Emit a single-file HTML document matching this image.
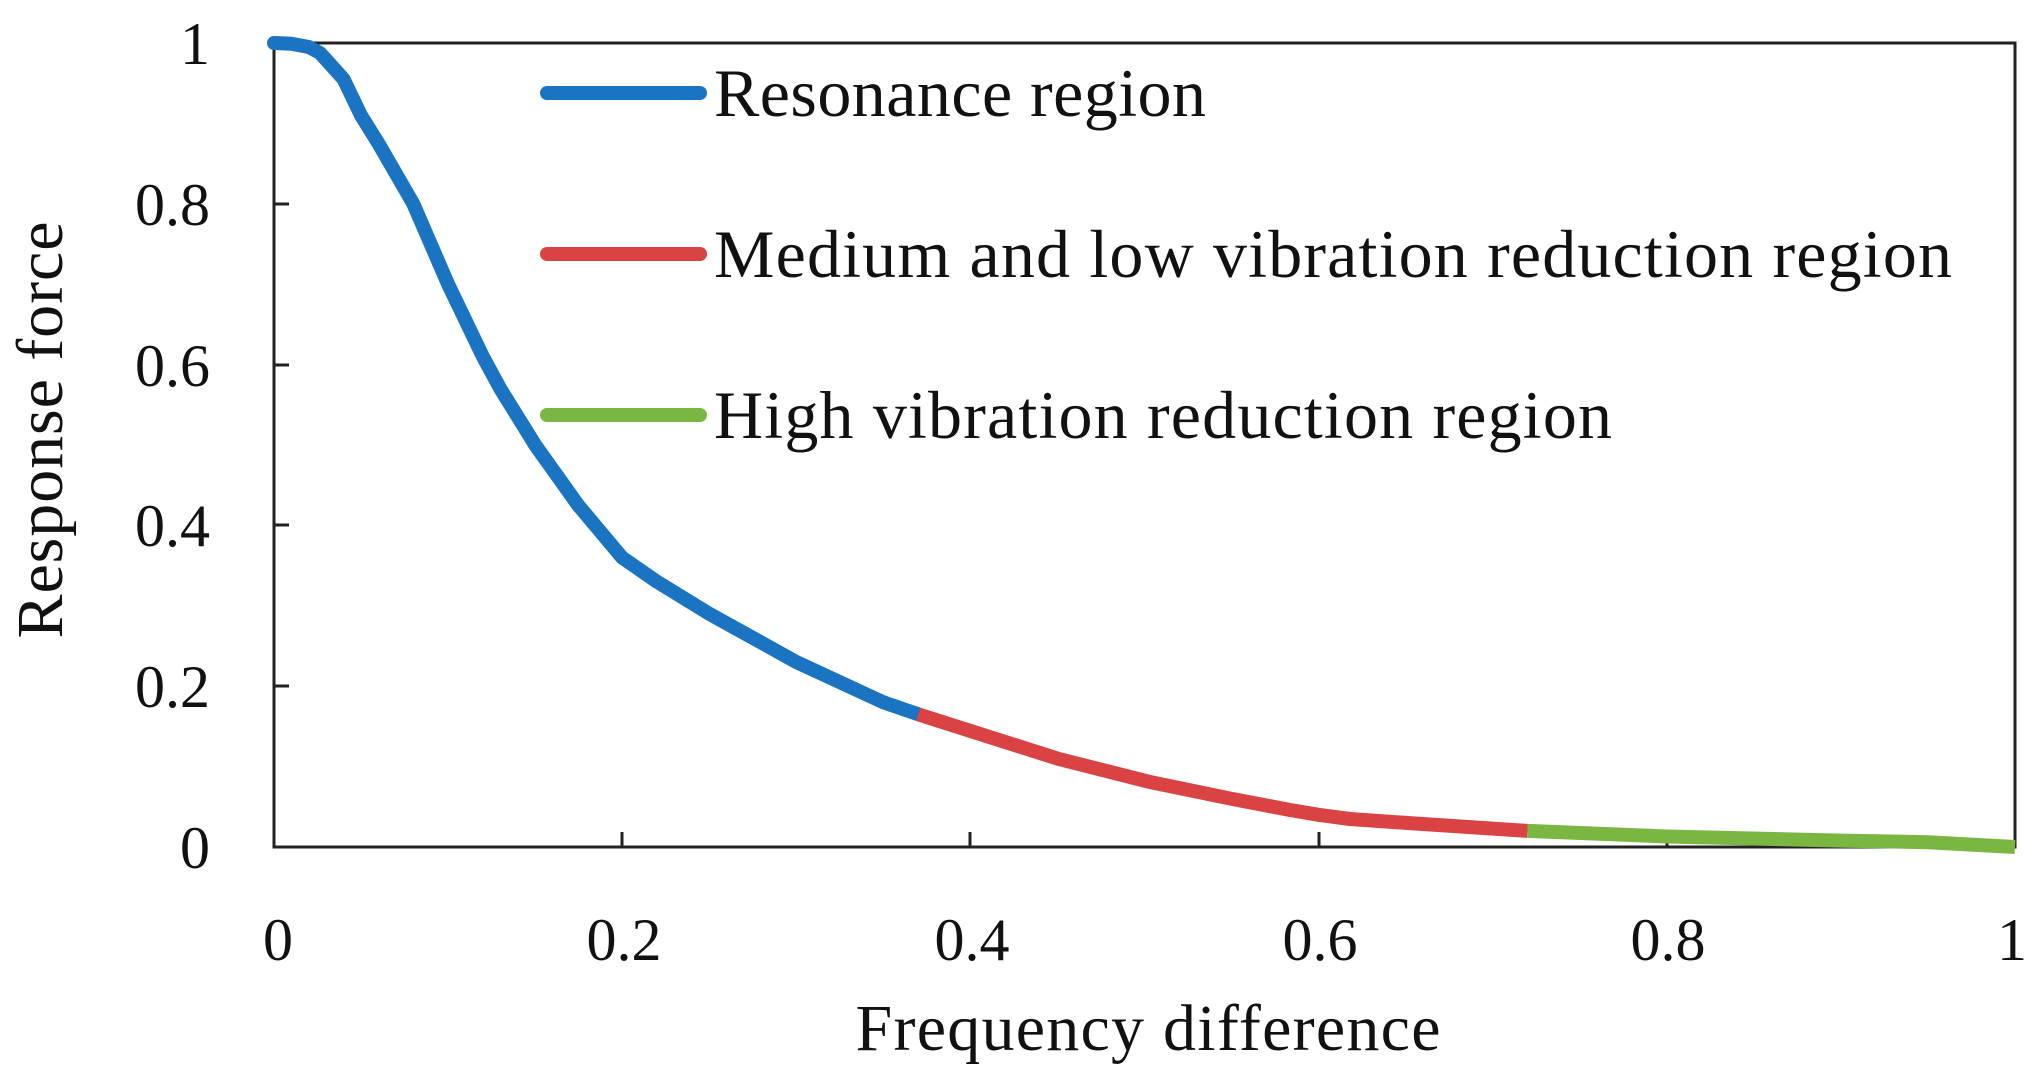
<!DOCTYPE html>
<html><head><meta charset="utf-8"><style>html,body{margin:0;padding:0;background:#fff}svg{display:block}</style></head>
<body>
<svg width="2036" height="1078" viewBox="0 0 2036 1078" xmlns="http://www.w3.org/2000/svg" font-family="'Liberation Serif', serif" fill="#111">
<rect x="274" y="43" width="1741" height="804" fill="none" stroke="#222" stroke-width="3"/>
<g stroke="#222" stroke-width="3">
<line x1="274" y1="204" x2="289" y2="204"/><line x1="274" y1="365" x2="289" y2="365"/><line x1="274" y1="525" x2="289" y2="525"/><line x1="274" y1="686" x2="289" y2="686"/>
<line x1="622" y1="847" x2="622" y2="832"/><line x1="970" y1="847" x2="970" y2="832"/><line x1="1319" y1="847" x2="1319" y2="832"/><line x1="1667" y1="847" x2="1667" y2="832"/>
</g>
<g font-size="60" text-anchor="end">
<text x="210" y="64">1</text><text x="210" y="225">0.8</text><text x="210" y="386">0.6</text><text x="210" y="546">0.4</text><text x="210" y="707">0.2</text><text x="210" y="868">0</text>
</g>
<g font-size="60" text-anchor="middle">
<text x="278" y="960">0</text><text x="624" y="960">0.2</text><text x="972" y="960">0.4</text><text x="1320" y="960">0.6</text><text x="1668" y="960">0.8</text><text x="2012" y="960">1</text>
</g>
<text x="1148" y="1050" font-size="66" text-anchor="middle" textLength="585">Frequency difference</text>
<text transform="translate(62,430) rotate(-90)" font-size="66" text-anchor="middle" textLength="417">Response force</text>
<g fill="none" stroke-width="14" stroke-linecap="round" stroke-linejoin="round">
<polyline stroke="#1a74c2" points="274,43 291.4,43.8 308.8,47 320,53 330,64 343.6,79.2 361,115.4 378.5,143.5 413.3,203.8 448.1,284.2 482.9,356.6 500.3,388.7 535.2,445 578,505 622.2,557.6 657,581.7 709.3,613.8 796.3,662 883.4,702.3 918.2,714.3"/>
<polyline stroke="#d94343" stroke-linecap="butt" points="918.2,714.3 1057.5,758.6 1150,782 1231.6,798.8 1290,810 1318.6,814.8 1350,819 1405.7,822.9 1527.5,830.9"/>
<polyline stroke="#7bb643" stroke-linecap="butt" points="1527.5,830.9 1666.8,836.5 1840.9,840.6 1928,842.2 1960,844 2015,847"/>
<line x1="547" y1="93" x2="700" y2="93" stroke="#1a74c2"/>
<line x1="547" y1="254" x2="700" y2="254" stroke="#d94343"/>
<line x1="547" y1="415" x2="700" y2="415" stroke="#7bb643"/>
</g>
<g font-size="68">
<text x="714" y="116" textLength="492">Resonance region</text>
<text x="714" y="277" textLength="1238">Medium and low vibration reduction region</text>
<text x="714" y="438" textLength="898">High vibration reduction region</text>
</g>
</svg>
</body></html>
